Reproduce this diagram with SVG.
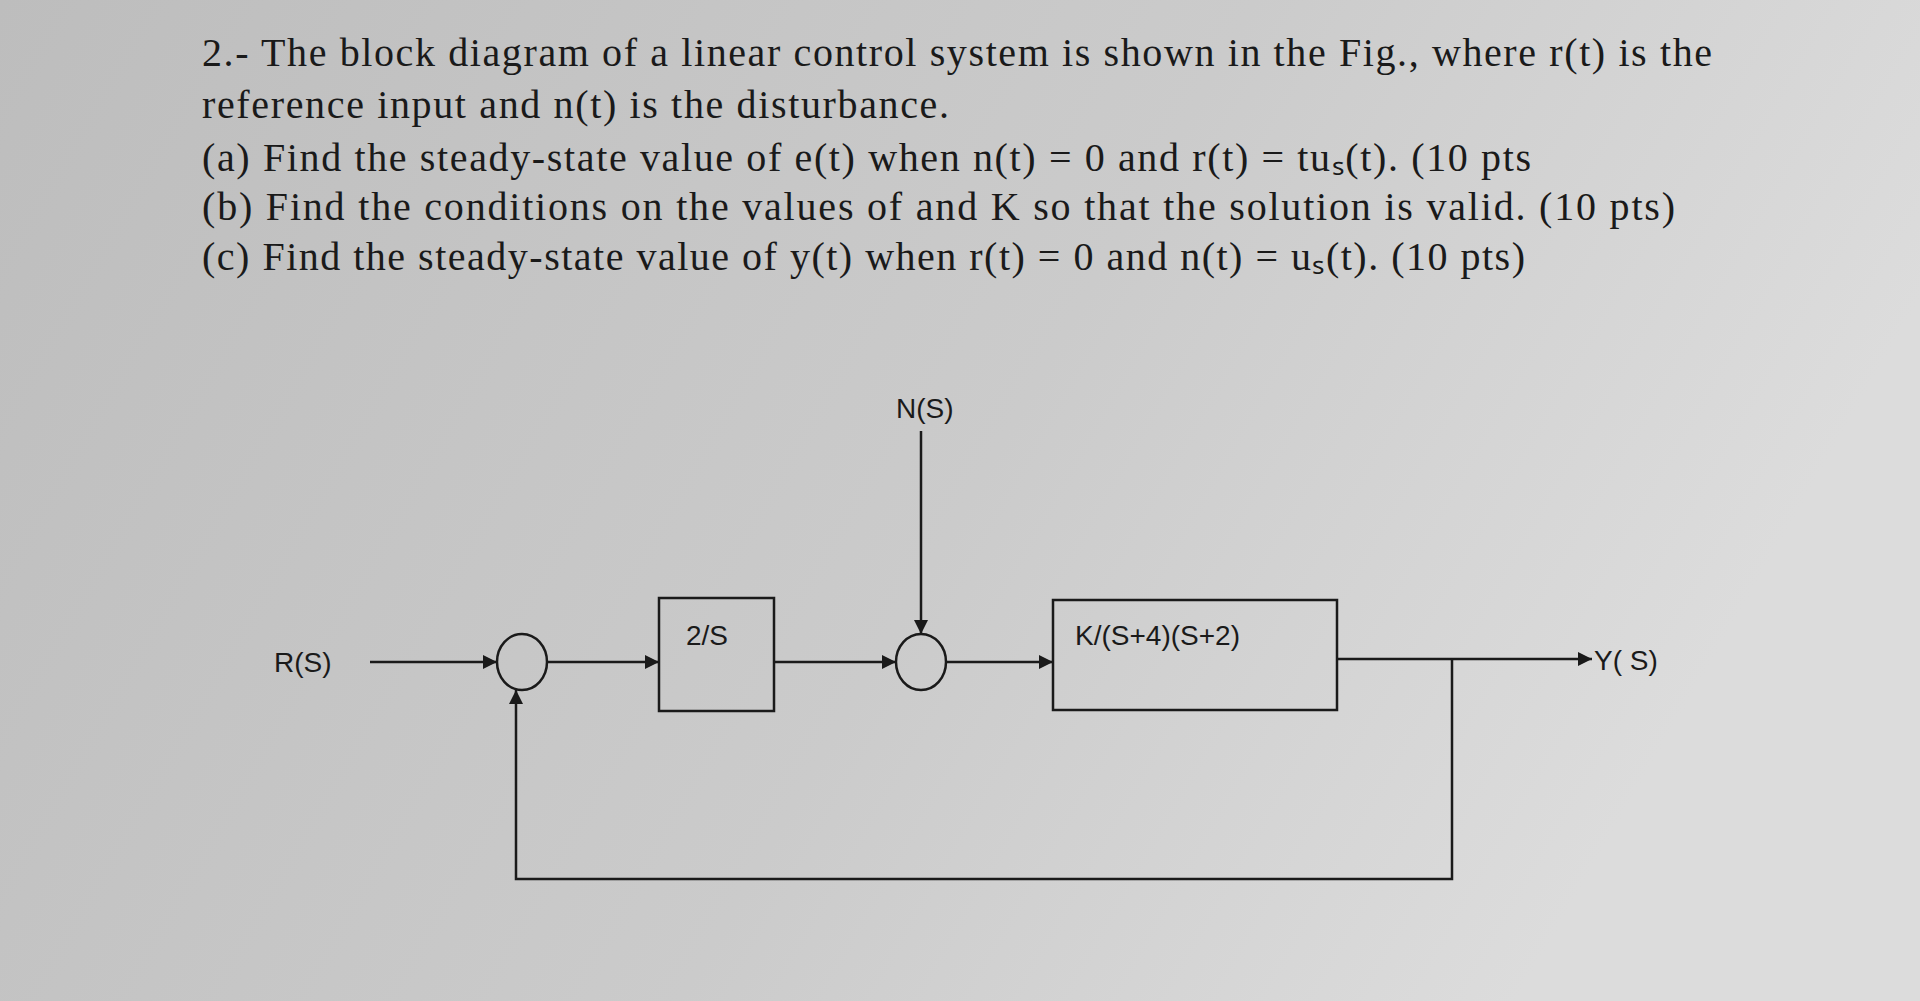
<svg xmlns="http://www.w3.org/2000/svg" width="1920" height="1001" viewBox="0 0 1920 1001">
<defs>
<linearGradient id="bg" x1="0" y1="0" x2="1" y2="0.3">
<stop offset="0" stop-color="#bdbdbd"/><stop offset="0.6" stop-color="#cbcbcb"/><stop offset="1" stop-color="#dcdcdc"/>
</linearGradient>
<marker id="ah" viewBox="0 0 10 10" refX="10" refY="5" markerWidth="14" markerHeight="14" markerUnits="userSpaceOnUse" orient="auto"><path d="M0,0 L10,5 L0,10 z" fill="#1a1a1a"/></marker>
<style>
.q{font-family:"Liberation Serif",serif;font-size:40px;fill:#1a1a1a}
.l{font-family:"Liberation Sans",sans-serif;font-size:28px;fill:#1a1a1a}
.w{stroke:#1a1a1a;stroke-width:2.5;fill:none}
.b{stroke:#1a1a1a;stroke-width:2.5;fill:none}
</style>
</defs>
<rect width="1920" height="1001" fill="url(#bg)"/>
<g id="question">
<text class="q" x="202" y="66" textLength="1510">2.- The block diagram of a linear control system is shown in the Fig., where r(t) is the</text>
<text class="q" x="202" y="118" textLength="747">reference input and n(t) is the disturbance.</text>
<text class="q" x="202" y="171" textLength="1329">(a) Find the steady-state value of e(t) when n(t) = 0 and r(t) = tuₛ(t).  (10 pts</text>
<text class="q" x="202" y="220" textLength="1473">(b) Find the conditions on the values of and K so that the solution is valid.   (10 pts)</text>
<text class="q" x="202" y="270" textLength="1323">(c) Find the steady-state value of y(t) when r(t) = 0 and n(t) = uₛ(t). (10 pts)</text>
</g>
<g id="connectors">
<line class="w" x1="370" y1="662" x2="497" y2="662" marker-end="url(#ah)"/>
<line class="w" x1="548" y1="662" x2="659" y2="662" marker-end="url(#ah)"/>
<line class="w" x1="774" y1="662" x2="896" y2="662" marker-end="url(#ah)"/>
<line class="w" x1="921" y1="431" x2="921" y2="634" marker-end="url(#ah)"/>
<line class="w" x1="946" y1="662" x2="1053" y2="662" marker-end="url(#ah)"/>
<line class="w" x1="1337" y1="659" x2="1592" y2="659" marker-end="url(#ah)"/>
<polyline class="w" points="1452,659 1452,879 516,879 516,690" marker-end="url(#ah)"/>
</g>
<g id="R"><text class="l" x="274" y="672">R(S)</text></g>
<g id="N"><text class="l" x="896" y="418">N(S)</text></g>
<g id="Y"><text class="l" x="1594" y="670">Y( S)</text></g>
<g id="sum1"><ellipse class="b" cx="522" cy="662" rx="25" ry="28"/></g>
<g id="G1"><rect class="b" x="659" y="598" width="115" height="113"/><text class="l" x="686" y="645">2/S</text></g>
<g id="sum2"><ellipse class="b" cx="921" cy="662" rx="25" ry="28"/></g>
<g id="G2"><rect class="b" x="1053" y="600" width="284" height="110"/><text class="l" x="1075" y="645">K/(S+4)(S+2)</text></g>
</svg>
